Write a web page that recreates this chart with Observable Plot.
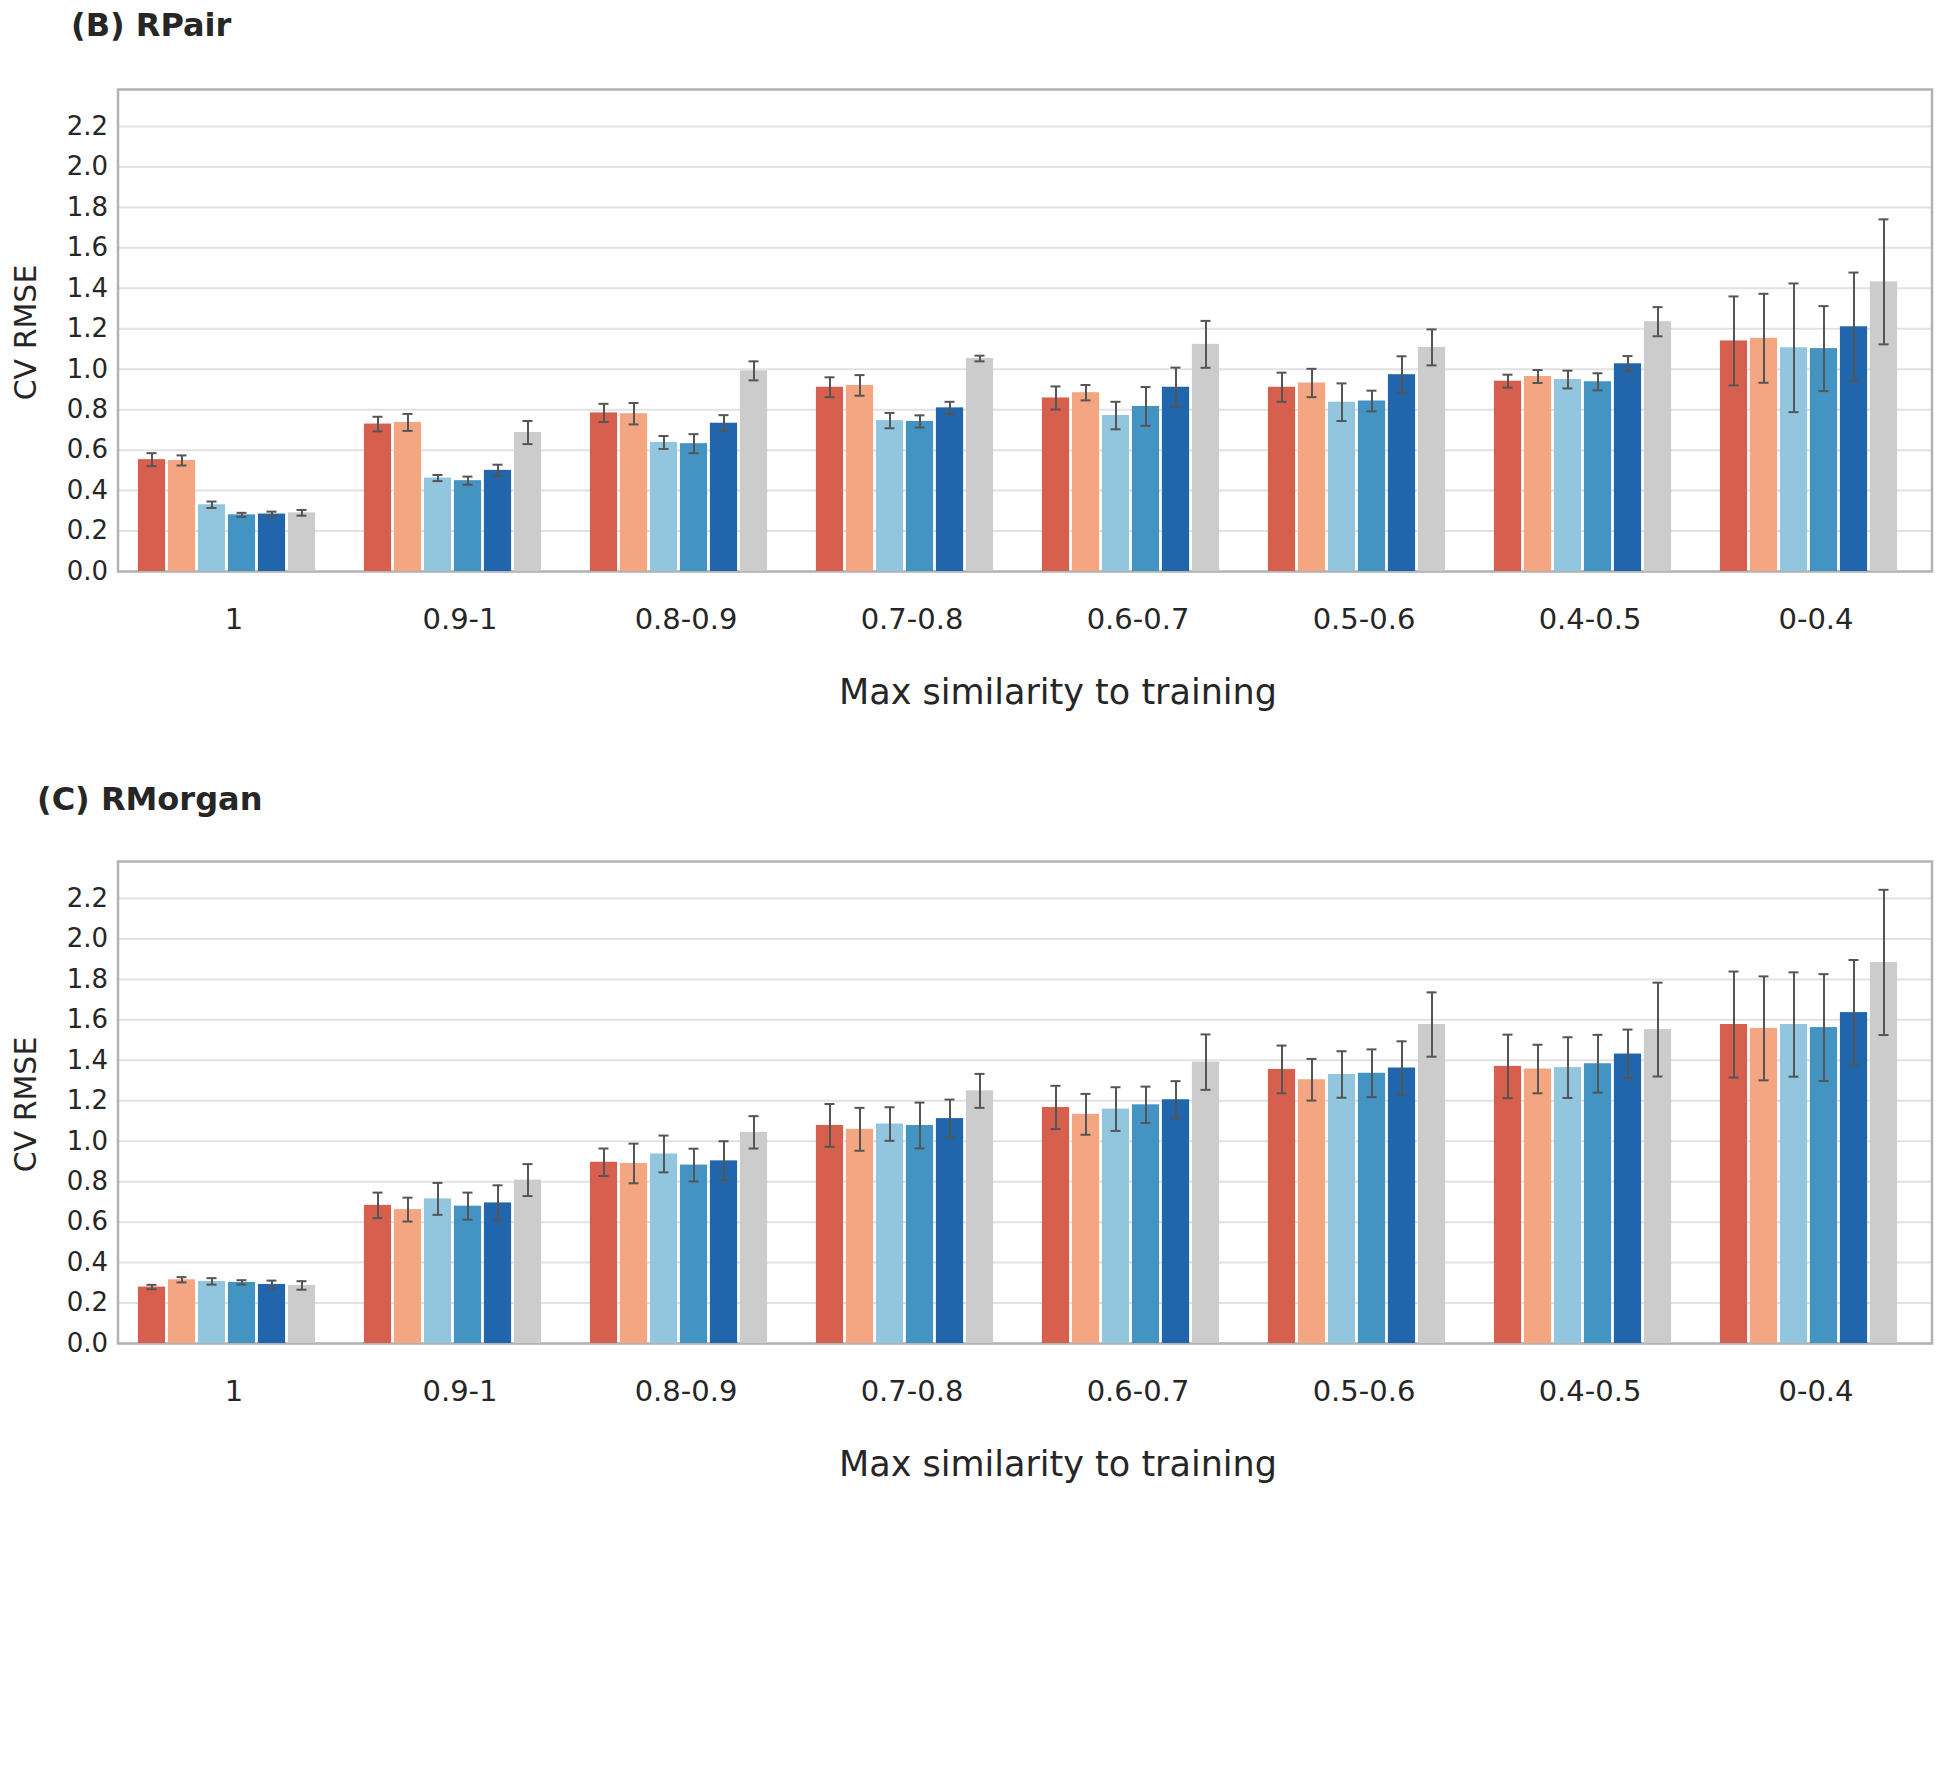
<!DOCTYPE html>
<html>
<head>
<meta charset="utf-8">
<script src="https://cdn.jsdelivr.net/npm/d3@7"></script>
<script src="https://cdn.jsdelivr.net/npm/@observablehq/plot@0.6"></script>
<style>
  body { margin: 0; background: #fff; font-family: "DejaVu Sans", sans-serif; }
  #root { position: relative; width: 1939px; height: 1766px; overflow: hidden; background: #fff; }
  .layer { position: absolute; left: 0; }
  .layer svg { max-width: none; }
  .title { position: absolute; font-family: "DejaVu Sans", sans-serif; font-weight: bold; font-size: 32px; line-height: 32px; color: #262626; white-space: nowrap; }
</style>
</head>
<body>
<div id="root"></div>
<script>
// ---- data ----
const groups = ["1", "0.9-1", "0.8-0.9", "0.7-0.8", "0.6-0.7", "0.5-0.6", "0.4-0.5", "0-0.4"];
const models = ["Model A", "Model B", "Model C", "Model D", "Model E", "Model F"];
const colors = ["#d6604d", "#f4a582", "#92c5de", "#4393c3", "#2166ac", "#cccccc"];
const yTicks = [0, 0.2, 0.4, 0.6, 0.8, 1.0, 1.2, 1.4, 1.6, 1.8, 2.0, 2.2];
const yMax = 2.383;

const panelTitles = ["(B) RPair", "(C) RMorgan"];
const xLabel = "Max similarity to training";
const yLabel = "CV RMSE";

// RPair: mean CV RMSE per group (rows) x model (columns)
const rpairMean = [
  [0.553, 0.549, 0.330, 0.280, 0.284, 0.290],
  [0.729, 0.737, 0.462, 0.449, 0.500, 0.687],
  [0.784, 0.780, 0.638, 0.632, 0.733, 0.992],
  [0.911, 0.920, 0.746, 0.742, 0.809, 1.053],
  [0.858, 0.884, 0.771, 0.816, 0.911, 1.123],
  [0.911, 0.932, 0.837, 0.843, 0.973, 1.108],
  [0.941, 0.964, 0.949, 0.938, 1.027, 1.235],
  [1.140, 1.153, 1.106, 1.102, 1.210, 1.432]
];
// RPair: error bar half-lengths
const rpairErr = [
  [0.032, 0.025, 0.016, 0.010, 0.012, 0.014],
  [0.036, 0.042, 0.015, 0.020, 0.028, 0.057],
  [0.045, 0.053, 0.032, 0.047, 0.040, 0.047],
  [0.049, 0.051, 0.038, 0.030, 0.030, 0.014],
  [0.057, 0.038, 0.068, 0.096, 0.097, 0.116],
  [0.072, 0.070, 0.093, 0.051, 0.091, 0.089],
  [0.032, 0.032, 0.044, 0.042, 0.038, 0.072],
  [0.220, 0.220, 0.318, 0.210, 0.268, 0.309]
];
// RMorgan: mean CV RMSE
const rmorganMean = [
  [0.279, 0.315, 0.307, 0.302, 0.292, 0.287],
  [0.683, 0.662, 0.715, 0.679, 0.695, 0.808],
  [0.896, 0.890, 0.937, 0.882, 0.903, 1.044],
  [1.078, 1.059, 1.085, 1.078, 1.112, 1.249],
  [1.167, 1.133, 1.159, 1.180, 1.205, 1.391],
  [1.355, 1.304, 1.330, 1.336, 1.362, 1.577],
  [1.370, 1.357, 1.364, 1.383, 1.431, 1.552],
  [1.577, 1.558, 1.577, 1.562, 1.636, 1.884]
];
// RMorgan: error bar half-lengths
const rmorganErr = [
  [0.011, 0.013, 0.016, 0.011, 0.019, 0.021],
  [0.063, 0.059, 0.079, 0.067, 0.087, 0.079],
  [0.068, 0.098, 0.091, 0.081, 0.097, 0.080],
  [0.106, 0.106, 0.083, 0.113, 0.094, 0.084],
  [0.107, 0.101, 0.108, 0.090, 0.092, 0.137],
  [0.118, 0.103, 0.115, 0.118, 0.132, 0.159],
  [0.157, 0.120, 0.150, 0.143, 0.121, 0.232],
  [0.262, 0.257, 0.258, 0.264, 0.260, 0.359]
];

// ---- layout ----
const W = 1939, H = 700;
const mTop = 29, mBottom = 189;
const textColor = "#262626";
const errColor = "#555555";

const root = document.getElementById("root");

function addTitle(text, left, top) {
  const d = document.createElement("div");
  d.className = "title";
  d.style.left = left + "px";
  d.style.top = top + "px";
  d.textContent = text;
  root.appendChild(d);
}

function addLayer(svg, top) {
  const wrap = document.createElement("div");
  wrap.className = "layer";
  wrap.style.top = top + "px";
  wrap.appendChild(svg);
  root.appendChild(wrap);
}

function panel(means, errs, svgTop) {
  const rows = groups.flatMap((g, i) => models.map((m, j) => ({
    group: g, model: m, mean: means[i][j],
    lo: means[i][j] - errs[i][j], hi: means[i][j] + errs[i][j]
  })));

  // background: grid, frame, axes, labels
  const bg = Plot.plot({
    width: W, height: H,
    marginTop: mTop, marginBottom: mBottom, marginLeft: 117.5, marginRight: 7.5,
    style: {background: "transparent", fontFamily: "DejaVu Sans", color: textColor, overflow: "visible"},
    x: {type: "band", domain: groups, paddingInner: 0.2, paddingOuter: 0.1, axis: null},
    y: {domain: [0, yMax], axis: null},
    marks: [
      Plot.gridY(yTicks, {stroke: "#e2e2e2", strokeOpacity: 1, strokeWidth: 2}),
      Plot.frame({stroke: "#b3b3b3", strokeWidth: 2.5}),
      Plot.axisY(yTicks, {tickSize: 0, tickPadding: 10, fontSize: 26, fill: textColor, tickFormat: d => d.toFixed(1), label: null}),
      Plot.axisX(groups, {tickSize: 0, tickPadding: 37, fontSize: 29, fill: textColor, label: null}),
      Plot.text([xLabel], {text: d => d, frameAnchor: "bottom", lineAnchor: "bottom", dx: 33, dy: 132, fontSize: 35, fill: textColor}),
      Plot.text([yLabel], {text: d => d, frameAnchor: "left", textAnchor: "middle", rotate: -90, dx: -91.5, dy: 2, fontSize: 30, fill: textColor})
    ]
  });
  addLayer(bg, svgTop);

  // foreground: grouped bars with error bars
  const fg = Plot.plot({
    width: W, height: H,
    marginTop: mTop, marginBottom: mBottom, marginLeft: 110.5, marginRight: 14.5,
    style: {background: "transparent", overflow: "visible"},
    facet: {data: rows, x: "group", label: null},
    fx: {domain: groups, paddingInner: 0.2, paddingOuter: 0.1, axis: null, label: null},
    x: {domain: models, padding: 0, axis: null},
    y: {domain: [0, yMax], axis: null},
    color: {domain: models, range: colors},
    marks: [
      Plot.barY(rows, {x: "model", y: "mean", fill: "model", insetLeft: 1.4, insetRight: 1.4}),
      Plot.ruleX(rows, {x: "model", y1: "lo", y2: "hi", stroke: errColor, strokeWidth: 2}),
      Plot.tickY(rows, {x: "model", y: "lo", stroke: errColor, strokeWidth: 2, insetLeft: 10, insetRight: 10}),
      Plot.tickY(rows, {x: "model", y: "hi", stroke: errColor, strokeWidth: 2, insetLeft: 10, insetRight: 10})
    ]
  });
  addLayer(fg, svgTop);
}

addTitle(panelTitles[0], 71, 9);
panel(rpairMean, rpairErr, 60);
addTitle(panelTitles[1], 37, 783);
panel(rmorganMean, rmorganErr, 832);
</script>
</body>
</html>
